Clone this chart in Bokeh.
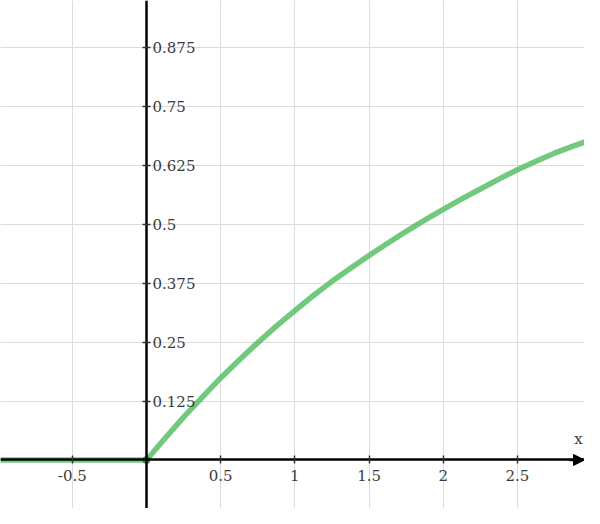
from bokeh.plotting import figure
from bokeh.models import (LinearAxis, FixedTicker, Range1d, Arrow, NormalHead,
                          Label, Grid)
from bokeh.embed import file_html
from bokeh.resources import INLINE

# ---- data ----
curve_x = [-1.0, 0.0, 0.125, 0.25, 0.375, 0.5, 0.625, 0.75, 0.875, 1.0,
           1.125, 1.25, 1.375, 1.5, 1.625, 1.75, 1.875, 2.0, 2.125, 2.25,
           2.375, 2.5, 2.625, 2.75, 2.875, 3.0]
curve_y = [0.0, 0.0, 0.046, 0.091, 0.133, 0.174, 0.212, 0.249, 0.284, 0.317,
           0.349, 0.379, 0.407, 0.434, 0.460, 0.485, 0.509, 0.532, 0.554, 0.575,
           0.596, 0.616, 0.634, 0.651, 0.666, 0.680]

x_ticks = [-0.5, 0.5, 1, 1.5, 2, 2.5]
x_tick_labels = ["-0.5", "0.5", "1", "1.5", "2", "2.5"]
y_ticks = [0.125, 0.25, 0.375, 0.5, 0.625, 0.75, 0.875]
y_tick_labels = ["0.125", "0.25", "0.375", "0.5", "0.625", "0.75", "0.875"]
x_grid = [-0.5, 0, 0.5, 1, 1.5, 2, 2.5]
y_grid = [0.125, 0.25, 0.375, 0.5, 0.625, 0.75, 0.875]

X_START, X_END = -0.984, 2.952
Y_START, Y_END = -0.103, 0.975

FONT = "DejaVu Serif"
TXT = "#3a3a3a"

p = figure(width=584, height=508, output_backend="svg", toolbar_location=None,
           x_range=Range1d(X_START, X_END), y_range=Range1d(Y_START, Y_END),
           x_axis_location=None, y_axis_location=None, min_border=0)
p.outline_line_color = None
p.background_fill_color = "white"
p.border_fill_color = "white"

# grid
p.xgrid.visible = False
p.ygrid.visible = False
p.add_layout(Grid(dimension=0, ticker=FixedTicker(ticks=x_grid),
                  grid_line_color="#dcdcdc", grid_line_width=1))
p.add_layout(Grid(dimension=1, ticker=FixedTicker(ticks=y_grid),
                  grid_line_color="#dcdcdc", grid_line_width=1))

# axes through the origin
xa = LinearAxis(fixed_location=0, ticker=FixedTicker(ticks=x_ticks),
                major_label_overrides=dict(zip(x_ticks, x_tick_labels)),
                axis_line_color="black", axis_line_width=2.5,
                major_tick_in=4, major_tick_out=4, major_tick_line_width=1.5,
                major_tick_line_color="#333333",
                minor_tick_line_color=None,
                major_label_text_font=FONT, major_label_text_font_size="15px",
                major_label_text_color=TXT, major_label_standoff=6)
p.add_layout(xa, "below")

ya = LinearAxis(fixed_location=0, ticker=FixedTicker(ticks=y_ticks),
                major_label_overrides=dict(zip(y_ticks, y_tick_labels)),
                axis_line_color="black", axis_line_width=2.5,
                major_tick_in=4, major_tick_out=4, major_tick_line_width=1.5,
                major_tick_line_color="#333333",
                minor_tick_line_color=None,
                major_label_text_font=FONT, major_label_text_font_size="15px",
                major_label_text_color=TXT, major_label_standoff=2)
p.add_layout(ya, "right")

# arrow head on the x axis
p.add_layout(Arrow(x_start=X_END - 0.1, y_start=0, x_end=X_END, y_end=0,
                   line_color="black", line_width=2.5,
                   end=NormalHead(size=11, fill_color="black", line_color="black")))

p.add_layout(Label(x=X_END - 0.04, y=0, x_offset=0, y_offset=12, text="x",
                   text_font=FONT, text_font_size="15px", text_color=TXT,
                   text_align="center", text_baseline="bottom"))

# curve
p.line(curve_x, curve_y, line_color="#4cbb5c", line_alpha=0.8, line_width=5.5,
       line_join="round", line_cap="round")
p.scatter([curve_x[1]], [curve_y[1]], size=7, fill_color="#3a9a4a",
          line_color="#2e7d3c", fill_alpha=0.8)

open("out.html", "w").write(file_html(p, INLINE))
